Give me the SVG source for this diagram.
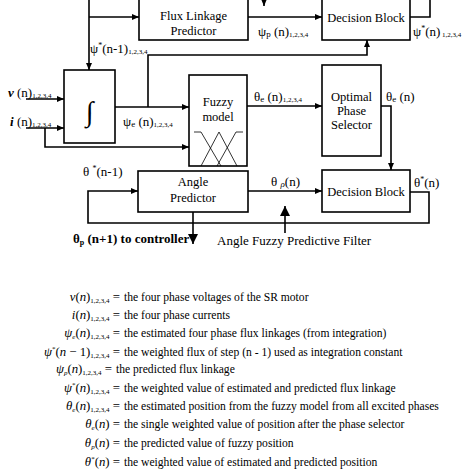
<svg xmlns="http://www.w3.org/2000/svg" width="474" height="474" viewBox="0 0 474 474" font-family="'Liberation Serif','Times New Roman','DejaVu Serif',serif">
<style>
text{font-family:"Liberation Serif","Times New Roman","DejaVu Serif",serif;fill:#000}
.box{fill:none;stroke:#000;stroke-width:1.6}
.ln{fill:none;stroke:#000;stroke-width:1.6}
.bt{font-size:12.5px;text-anchor:middle}
.lb{font-size:13px}
.sb{font-size:7px}
.lg{font-size:11.6px}
.ex{font-size:12.8px;text-anchor:end}
.m{font-style:italic}
</style>
<defs>
<marker id="ah" markerWidth="8" markerHeight="8" refX="7" refY="4" orient="auto" markerUnits="userSpaceOnUse">
<path d="M0,1 L7,4 L0,7 Z" fill="#000"/>
</marker>
<marker id="ahb" markerWidth="12" markerHeight="12" refX="10" refY="6" orient="auto" markerUnits="userSpaceOnUse">
<path d="M0,1 L10,6 L0,11 Z" fill="#000"/>
</marker>
</defs>

<g id="connectors">
<path class="ln" d="M89,0 V70" marker-end="url(#ah)"/>
<path class="ln" d="M89,17 H139" marker-end="url(#ah)"/>
<path class="ln" d="M248,17 H322" marker-end="url(#ah)"/>
<path class="ln" d="M264,-2 V6" marker-end="url(#ah)"/>
<path class="ln" d="M410,17 H430 V0"/>
<path class="ln" d="M26,99 H64" marker-end="url(#ah)"/>
<path class="ln" d="M26,128 H64" marker-end="url(#ah)"/>
<path class="ln" d="M45,128 V147 H189" marker-end="url(#ah)"/>
<path class="ln" d="M115,107 H189" marker-end="url(#ah)"/>
<path class="ln" d="M148,107 V55 H367 V40" marker-end="url(#ah)"/>
<path class="ln" d="M247,106 H322" marker-end="url(#ah)"/>
<path class="ln" d="M381,106 H391 V170" marker-end="url(#ah)"/>
<path class="ln" d="M248,191 H322" marker-end="url(#ah)"/>
<path class="ln" d="M410,192 H429 V223 H88 V191 H138" marker-end="url(#ah)"/>
<path class="ln" d="M193,212 V244" stroke-width="2.6" marker-end="url(#ahb)"/>
<path class="ln" d="M285,233 V206" stroke-width="1.6" marker-end="url(#ahb)"/>
</g>

<g id="flux-linkage-predictor">
<rect class="box" x="139" y="-5" width="109" height="45"/>
<text class="bt" x="193.5" y="20">Flux Linkage</text>
<text class="bt" x="193.5" y="35">Predictor</text>
</g>

<g id="decision-block-top">
<rect class="box" x="322" y="-5" width="88" height="45"/>
<text class="bt" x="366" y="22">Decision Block</text>
</g>

<g id="integrator">
<rect class="box" x="64" y="70" width="51" height="73"/>
<text x="89.5" y="121" font-size="28" text-anchor="middle">∫</text>
</g>

<g id="fuzzy-model">
<rect class="box" x="189" y="75" width="58" height="91"/>
<text class="bt" x="218" y="106">Fuzzy</text>
<text class="bt" x="218" y="121">model</text>
<path d="M194,132 H201 L221,166 M201,166 L219,132 L237,166 M217,166 L236,132 H243" fill="none" stroke="#000" stroke-width="0.8"/>
</g>

<g id="optimal-phase-selector">
<rect class="box" x="322" y="65" width="59" height="91"/>
<text class="bt" x="351.5" y="101">Optimal</text>
<text class="bt" x="351.5" y="115">Phase</text>
<text class="bt" x="351.5" y="129">Selector</text>
</g>

<g id="angle-predictor">
<rect class="box" x="138" y="171" width="110" height="41"/>
<text class="bt" x="193" y="186">Angle</text>
<text class="bt" x="193" y="202">Predictor</text>
</g>

<g id="decision-block-bottom">
<rect class="box" x="322" y="170" width="88" height="42"/>
<text class="bt" x="366" y="196">Decision Block</text>
</g>

<g id="labels">
<text class="lb" x="90" y="53">ψ<tspan font-size="8" dy="-5">*</tspan><tspan dy="5">(n-1)</tspan><tspan class="sb" dy="1">1,2,3,4</tspan></text>
<text class="lb" x="258" y="36">ψ<tspan font-size="9" dy="1">p</tspan><tspan dy="-1"> (n)</tspan><tspan class="sb" dy="1">1,2,3,4</tspan></text>
<text class="lb" x="413" y="36">ψ<tspan font-size="8" dy="-5">*</tspan><tspan dy="5">(n)</tspan><tspan class="sb" dy="1"> 1,2,3,4</tspan></text>
<text class="lb" x="8" y="97"><tspan class="m" font-weight="bold">v</tspan> (n)<tspan class="sb" dy="1">1,2,3,4</tspan></text>
<text class="lb" x="10" y="126"><tspan class="m" font-weight="bold">i</tspan> (n)<tspan class="sb" dy="1">1,2,3,4</tspan></text>
<text class="lb" x="123" y="126">ψ<tspan font-size="9" dy="1">e</tspan><tspan dy="-1"> (n)</tspan><tspan class="sb" dy="1">1,2,3,4</tspan></text>
<text class="lb" x="254" y="101">θ<tspan font-size="9" dy="1">e</tspan><tspan dy="-1"> (n)</tspan><tspan class="sb" dy="1">1,2,3,4</tspan></text>
<text class="lb" x="386" y="101">θ<tspan font-size="9" dy="1">e</tspan><tspan dy="-1"> (n)</tspan></text>
<text class="lb" x="83" y="176">θ <tspan font-size="8" dy="-5">*</tspan><tspan dy="5">(n-1)</tspan></text>
<text class="lb" x="271" y="186">θ <tspan class="m" font-size="9" dy="1">ρ</tspan><tspan dy="-1">(n)</tspan></text>
<text class="lb" x="414" y="187">θ<tspan font-size="8" dy="-5">*</tspan><tspan dy="5">(n)</tspan></text>
<text class="lb" x="73" y="243" font-weight="bold">θ<tspan font-size="8" dy="2">p</tspan><tspan dy="-2"> (n+1) to controller</tspan></text>
<text class="lb" x="217" y="245">Angle Fuzzy Predictive Filter</text>
</g>

<g id="legend" class="lg">
<text class="ex" x="120" y="301"><tspan class="m">v</tspan>(<tspan class="m">n</tspan>)<tspan font-size="7" dy="2">1,2,3,4</tspan><tspan dy="-2"> =</tspan></text>
<text x="124" y="301">the four phase voltages of the SR motor</text>
<text class="ex" x="120" y="319"><tspan class="m">i</tspan>(<tspan class="m">n</tspan>)<tspan font-size="7" dy="2">1,2,3,4</tspan><tspan dy="-2"> =</tspan></text>
<text x="124" y="319">the four phase currents</text>
<text class="ex" x="120" y="337"><tspan class="m">ψ</tspan><tspan class="m" font-size="7" dy="2">e</tspan><tspan dy="-2">(</tspan><tspan class="m">n</tspan>)<tspan font-size="7" dy="2">1,2,3,4</tspan><tspan dy="-2"> =</tspan></text>
<text x="124" y="337">the estimated four phase flux linkages (from integration)</text>
<text class="ex" x="120" y="356"><tspan class="m">ψ</tspan><tspan font-size="7" dy="-5">*</tspan><tspan dy="5">(</tspan><tspan class="m">n</tspan> − 1)<tspan font-size="7" dy="2">1,2,3,4</tspan><tspan dy="-2"> =</tspan></text>
<text x="124" y="356">the weighted flux of step (n - 1) used as integration constant</text>
<text class="ex" x="112" y="373"><tspan class="m">ψ</tspan><tspan class="m" font-size="7" dy="2">p</tspan><tspan dy="-2">(</tspan><tspan class="m">n</tspan>)<tspan font-size="7" dy="2">1,2,3,4</tspan><tspan dy="-2"> =</tspan></text>
<text x="116" y="373">the predicted flux linkage</text>
<text class="ex" x="120" y="392"><tspan class="m">ψ</tspan><tspan font-size="7" dy="-5">*</tspan><tspan dy="5">(</tspan><tspan class="m">n</tspan>)<tspan font-size="7" dy="2">1,2,3,4</tspan><tspan dy="-2"> =</tspan></text>
<text x="124" y="392">the weighted value of estimated and predicted flux linkage</text>
<text class="ex" x="120" y="410"><tspan class="m">θ</tspan><tspan class="m" font-size="7" dy="2">e</tspan><tspan dy="-2">(</tspan><tspan class="m">n</tspan>)<tspan font-size="7" dy="2">1,2,3,4</tspan><tspan dy="-2"> =</tspan></text>
<text x="124" y="410">the estimated position from the fuzzy model from all excited phases</text>
<text class="ex" x="120" y="428"><tspan class="m">θ</tspan><tspan class="m" font-size="7" dy="2">e</tspan><tspan dy="-2">(</tspan><tspan class="m">n</tspan>) =</text>
<text x="124" y="428">the single weighted value of position after the phase selector</text>
<text class="ex" x="120" y="447"><tspan class="m">θ</tspan><tspan class="m" font-size="7" dy="2">p</tspan><tspan dy="-2">(</tspan><tspan class="m">n</tspan>) =</text>
<text x="124" y="447">the predicted value of fuzzy position</text>
<text class="ex" x="120" y="466"><tspan class="m">θ</tspan><tspan font-size="7" dy="-5">*</tspan><tspan dy="5">(</tspan><tspan class="m">n</tspan>) =</text>
<text x="124" y="466">the weighted value of estimated and predicted position</text>
</g>
</svg>
